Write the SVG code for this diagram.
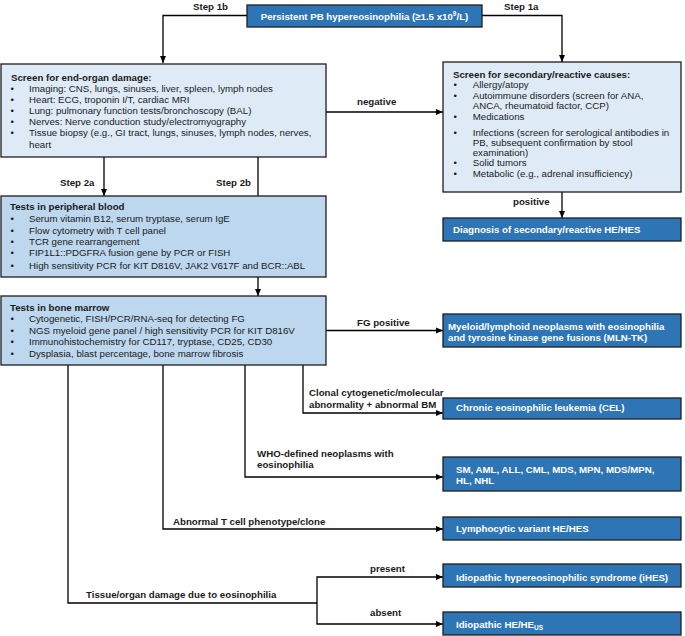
<svg xmlns="http://www.w3.org/2000/svg" width="685" height="636" viewBox="0 0 685 636">
<defs>
<marker id="arr" viewBox="0 0 10 10" refX="10" refY="5" markerWidth="7" markerHeight="7" markerUnits="userSpaceOnUse" orient="auto">
<path d="M0,0.7 L10,5 L0,9.3 Z" fill="#000"/>
</marker>
<style>
text{font-family:"Liberation Sans",Arial,sans-serif;font-size:9.7px;fill:#1a1a1a}
.b{font-weight:bold}
.w{fill:#fff;font-weight:bold}
.dark{fill:#2e75b6;stroke:#1e1e1e;stroke-width:1.3}
.l1{fill:#deebf7;stroke:#1e1e1e;stroke-width:1.3}
.l2{fill:#bdd7ee;stroke:#1e1e1e;stroke-width:1.3}
.c{fill:none;stroke:#000;stroke-width:1.3}
.a{marker-end:url(#arr)}
</style>
</defs>
<g id="connectors">
<path class="c a" d="M247,15.5 H163 V63"/>
<path class="c a" d="M482,15.5 H562 V62"/>
<path class="c a" d="M326,112 H443"/>
<path class="c a" d="M562,192 V218"/>
<path class="c a" d="M104,157 V196"/>
<path class="c" d="M258,157 V196"/>
<path class="c a" d="M258,277 V296"/>
<path class="c a" d="M326,330.5 H443"/>
<path class="c a" d="M303,365 V413 H443"/>
<path class="c a" d="M245,365 V477 H443"/>
<path class="c a" d="M163,365 V529 H443"/>
<path class="c" d="M68,365 V603 H317"/>
<path class="c a" d="M317,603 V577 H443"/>
<path class="c a" d="M317,603 V624 H443"/>
<text class="b" x="193" y="9.5">Step 1b</text>
<text class="b" x="504" y="9.5">Step 1a</text>
<text class="b" x="357" y="105">negative</text>
<text class="b" x="513" y="205">positive</text>
<text class="b" x="60" y="186">Step 2a</text>
<text class="b" x="216" y="186">Step 2b</text>
<text class="b" x="357" y="326">FG positive</text>
<text class="b" x="309" y="396.2">Clonal cytogenetic/molecular</text>
<text class="b" x="309" y="407.5">abnormality + abnormal BM</text>
<text class="b" x="257" y="456.5">WHO-defined neoplasms with</text>
<text class="b" x="257" y="468.3">eosinophilia</text>
<text class="b" x="173" y="524.5">Abnormal T cell phenotype/clone</text>
<text class="b" x="370" y="571.5">present</text>
<text class="b" x="86" y="597.5">Tissue/organ damage due to eosinophilia</text>
<text class="b" x="370" y="616">absent</text>
</g>
<g id="start">
<rect class="dark" x="247" y="5" width="235" height="22"/>
<text class="w" x="364.5" y="19.5" text-anchor="middle">Persistent PB hypereosinophilia (≥1.5 x10<tspan font-size="6.5" dy="-3.5">9</tspan><tspan dy="3.5">/L)</tspan></text>
</g>
<g id="end-organ">
<rect class="l1" x="1" y="64" width="325" height="93"/>
<text class="b" x="11" y="80.8">Screen for end-organ damage:</text>
<text x="10.5" y="91.8">•</text><text x="29" y="91.8">Imaging: CNS, lungs, sinuses, liver, spleen, lymph nodes</text>
<text x="10.5" y="102.8">•</text><text x="29" y="102.8">Heart: ECG, troponin I/T, cardiac MRI</text>
<text x="10.5" y="113.5">•</text><text x="29" y="113.5">Lung: pulmonary function tests/bronchoscopy (BAL)</text>
<text x="10.5" y="125.2">•</text><text x="29" y="125.2">Nerves: Nerve conduction study/electromyography</text>
<text x="10.5" y="136.2">•</text><text x="29" y="136.2">Tissue biopsy (e.g., GI tract, lungs, sinuses, lymph nodes, nerves,</text>
<text x="29" y="147.8">heart</text>
</g>
<g id="secondary">
<rect class="l1" x="443" y="62" width="238" height="130"/>
<text class="b" x="453" y="77.5">Screen for secondary/reactive causes:</text>
<text x="453.5" y="87.8">•</text><text x="472.7" y="87.8">Allergy/atopy</text>
<text x="453.5" y="98.5">•</text><text x="472.7" y="98.5">Autoimmune disorders (screen for ANA,</text>
<text x="472.7" y="108.5">ANCA, rheumatoid factor, CCP)</text>
<text x="453.5" y="120.2">•</text><text x="472.7" y="120.2">Medications</text>
<text x="453.5" y="135.8">•</text><text x="472.7" y="135.8">Infections (screen for serological antibodies in</text>
<text x="472.7" y="145.5">PB, subsequent confirmation by stool</text>
<text x="472.7" y="155.5">examination)</text>
<text x="453.5" y="165.5">•</text><text x="472.7" y="165.5">Solid tumors</text>
<text x="453.5" y="176.5">•</text><text x="472.7" y="176.5">Metabolic (e.g., adrenal insufficiency)</text>
</g>
<g id="diag-secondary">
<rect class="dark" x="443" y="218" width="238" height="23"/>
<text class="w" x="453" y="232.8">Diagnosis of secondary/reactive HE/HES</text>
</g>
<g id="peripheral">
<rect class="l2" x="1" y="196" width="325" height="81"/>
<text class="b" x="10" y="209.5">Tests in peripheral blood</text>
<text x="10.5" y="221.8">•</text><text x="29" y="221.8">Serum vitamin B12, serum tryptase, serum IgE</text>
<text x="10.5" y="234.2">•</text><text x="29" y="234.2">Flow cytometry with T cell panel</text>
<text x="10.5" y="245.2">•</text><text x="29" y="245.2">TCR gene rearrangement</text>
<text x="10.5" y="256.2">•</text><text x="29" y="256.2">FIP1L1::PDGFRA fusion gene by PCR or FISH</text>
<text x="10.5" y="268.5">•</text><text x="29" y="268.5">High sensitivity PCR for KIT D816V, JAK2 V617F and BCR::ABL</text>
</g>
<g id="bone-marrow">
<rect class="l2" x="1" y="296" width="325" height="69"/>
<text class="b" x="10" y="310.5">Tests in bone marrow</text>
<text x="10.5" y="321.5">•</text><text x="29" y="321.5">Cytogenetic, FISH/PCR/RNA-seq for detecting FG</text>
<text x="10.5" y="333.5">•</text><text x="29" y="333.5">NGS myeloid gene panel / high sensitivity PCR for KIT D816V</text>
<text x="10.5" y="345.2">•</text><text x="29" y="345.2">Immunohistochemistry for CD117, tryptase, CD25, CD30</text>
<text x="10.5" y="356.8">•</text><text x="29" y="356.8">Dysplasia, blast percentage, bone marrow fibrosis</text>
</g>
<g id="mln-tk">
<rect class="dark" x="443" y="314" width="238" height="33"/>
<text class="w" x="448" y="329.5">Myeloid/lymphoid neoplasms with eosinophilia</text>
<text class="w" x="448" y="340.5">and tyrosine kinase gene fusions (MLN-TK)</text>
</g>
<g id="cel">
<rect class="dark" x="443" y="398" width="238" height="21"/>
<text class="w" x="456" y="411.2">Chronic eosinophilic leukemia (CEL)</text>
</g>
<g id="who">
<rect class="dark" x="443" y="457" width="238" height="34"/>
<text class="w" x="456" y="473.2">SM, AML, ALL, CML, MDS, MPN, MDS/MPN,</text>
<text class="w" x="456" y="483.8">HL, NHL</text>
</g>
<g id="lymphocytic">
<rect class="dark" x="443" y="517" width="238" height="23"/>
<text class="w" x="456" y="531.5">Lymphocytic variant HE/HES</text>
</g>
<g id="ihes">
<rect class="dark" x="443" y="564" width="238" height="23"/>
<text class="w" x="456" y="580.5">Idiopathic hypereosinophilic syndrome (iHES)</text>
</g>
<g id="heus">
<rect class="dark" x="443" y="612" width="238" height="23"/>
<text class="w" x="456" y="627.5">Idiopathic HE/HE<tspan font-size="6.5" dy="2">US</tspan></text>
</g>
</svg>
